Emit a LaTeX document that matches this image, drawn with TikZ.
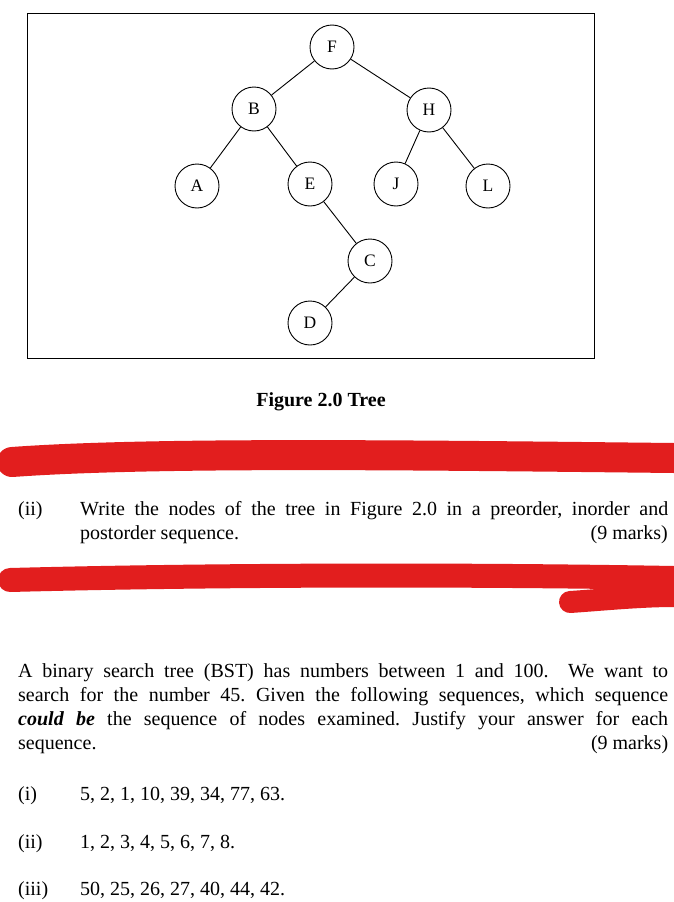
\documentclass[tikz,border=0pt]{standalone}
\usepackage{fontspec}
\setmainfont{Liberation Serif}
\definecolor{marker}{RGB}{226,30,30}
\begin{document}
\frenchspacing
\begin{tikzpicture}[x=1pt,y=-1pt,
  tn/.style={draw,circle,minimum size=44pt,inner sep=0pt,line width=0.9pt,font=\fontsize{17.5}{20}\selectfont},
  ed/.style={line width=0.9pt},
  red/.style={draw=marker,line cap=round,line join=round},
  txt/.style={anchor=base west,inner sep=0pt,font=\fontsize{20}{24}\selectfont}]
\useasboundingbox (0,0) rectangle (674,902);
\fill[white] (0,0) rectangle (674,902);
\draw[line width=0.9pt] (27,13) rectangle (594,358);
\node[tn] (F) at (332,47) {F};
\node[tn] (B) at (254,109) {B};
\node[tn] (H) at (429,110) {H};
\node[tn] (A) at (197,186) {A};
\node[tn] (E) at (310,184) {E};
\node[tn] (J) at (396,184) {J};
\node[tn] (L) at (488,186) {L};
\node[tn] (C) at (370,261) {C};
\node[tn] (D) at (310,323) {D};
\draw[ed] (F)--(B) (F)--(H) (B)--(A) (B)--(E) (H)--(J) (H)--(L) (E)--(C) (C)--(D);
\node[txt,anchor=base,font=\fontsize{20}{24}\selectfont\bfseries] (cap) at (321,406) {Figure 2.0 Tree};
% red strokes
\draw[red,line width=30pt] (12,462) .. controls (150,452) and (400,455) .. (674,458);
\draw[red,line width=24pt] (10,580) .. controls (200,575) and (450,574) .. (674,578);
\draw[red,line width=22pt] (570,602) .. controls (600,600) and (640,596) .. (674,596);
% question (ii)
\node[txt] (q2) at (18,515) {(ii)};
\node[txt] (q2t) at (80,515) {\makebox[588pt][s]{Write the nodes of the tree in Figure 2.0 in a preorder, inorder and}};
\node[txt] (q2b) at (80,539) {postorder sequence.};
\node[txt,anchor=base east] (q2m) at (668,539) {(9 marks)};
% BST paragraph
\node[txt,anchor=north west,text width=650pt,align=justify] (p) at (18,663) {A binary search tree (BST) has numbers between 1 and 100.\ \ We want to\linebreak search for the number 45. Given the following sequences, which sequence\linebreak \textbf{\textit{could be}} the sequence of nodes examined. Justify your answer for each\linebreak sequence.\hfill(9 marks)};
\node[txt] (i1) at (18,800) {(i)};
\node[txt] (i1t) at (80,800) {5, 2, 1, 10, 39, 34, 77, 63.};
\node[txt] (i2) at (18,848) {(ii)};
\node[txt] (i2t) at (80,848) {1, 2, 3, 4, 5, 6, 7, 8.};
\node[txt] (i3) at (18,895) {(iii)};
\node[txt] (i3t) at (80,895) {50, 25, 26, 27, 40, 44, 42.};
\end{tikzpicture}
\end{document}
